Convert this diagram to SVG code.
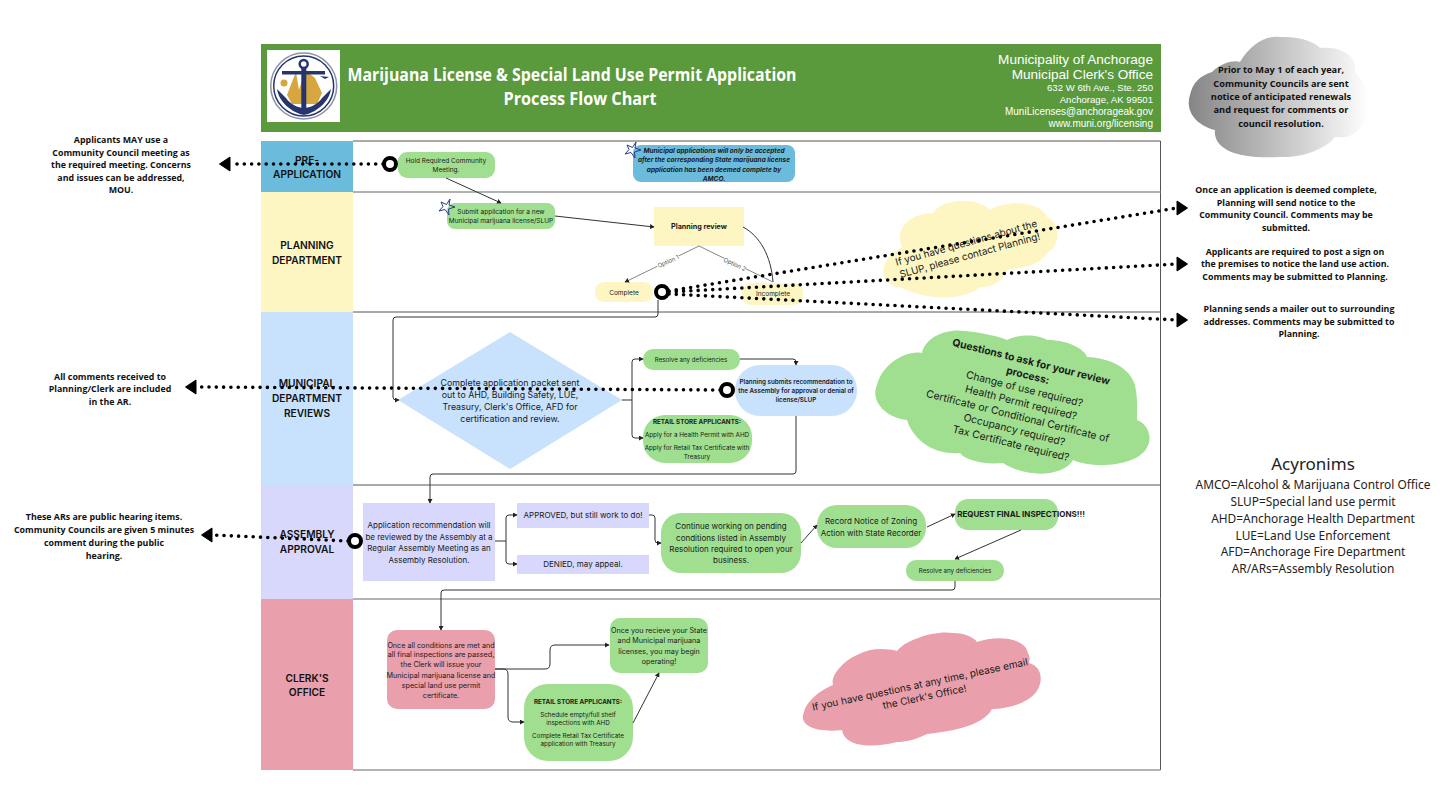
<svg xmlns="http://www.w3.org/2000/svg" width="1440" height="809" viewBox="0 0 1440 809">
<style>
text{font-family:"Inter","Liberation Sans",sans-serif;fill:#1a1a1a;text-anchor:middle}
.lane{font-size:10.200px;font-weight:600;fill:#111}
.s62{font-size:6.200px}.s63{font-size:6.300px}.s7{font-size:6.500px}.s75{font-size:7.200px}.s8{font-size:8px}.s9{font-size:8.800px}
.b{font-weight:700}
.note{font-size:8.850px;font-weight:700;fill:#111;font-family:"Open Sans","Liberation Sans",sans-serif}
.big{font-size:9.250px}
.hd{font-family:"Liberation Sans",sans-serif;fill:#fff;text-anchor:end}
.ttl{font-size:17px;font-weight:700;fill:#fff;font-family:"Open Sans",sans-serif}
.acr{font-size:11.900px;font-family:"Noto Sans","Liberation Sans",sans-serif;fill:#222}
.thin{fill:none;stroke:#333;stroke-width:1}
.dot{fill:none;stroke:#000;stroke-width:3.600;stroke-linecap:round;stroke-dasharray:0 7.300}
.ring{fill:#fff;stroke:#000;stroke-width:4}
.opt{fill:none;stroke:#666;stroke-width:.8}
.optt{font-size:6px;fill:#555}
.star{fill:none;stroke:#2b3a8c;stroke-width:1}
.green{fill:#9fdf8f}.yel{fill:#fdf6c3}.blue{fill:#c8e1fc}.lav{fill:#d7d8fc}.pink{fill:#e9a0ac}.sky{fill:#6bbcdc}
.rule{fill:none;stroke:#555;stroke-width:1}
.rule2{fill:none;stroke:#999;stroke-width:1.500}
</style>
<defs>
<marker id="a" markerWidth="5" markerHeight="5" refX="4" refY="2.500" orient="auto" markerUnits="userSpaceOnUse"><path d="M0 0L4.500 2.500L0 5z" fill="#222"/></marker>
<marker id="bigR" markerWidth="14" markerHeight="16" refX="1" refY="8" orient="0" markerUnits="userSpaceOnUse"><path d="M1 1L11.500 8L1 15z" fill="#000" stroke="#000" stroke-linejoin="round"/></marker>
<marker id="bigL" markerWidth="14" markerHeight="16" refX="1" refY="8" orient="180" markerUnits="userSpaceOnUse"><path d="M1 1L11.500 8L1 15z" fill="#000" stroke="#000" stroke-linejoin="round"/></marker>
<linearGradient id="gr" x1="0" x2="1" y1="0" y2="0"><stop offset="0" stop-color="#858585"/><stop offset="1" stop-color="#ffffff"/></linearGradient>
<path id="st" d="M3 -8L2 -2L8 0L1.500 2L2 8L-2 2.500L-8 4L-4 -.5L-6 -5L-.5 -2.500Z"/>
</defs>

<g id="header">
<rect x="261" y="44" width="900" height="88" fill="#5a9a3c"/>
<rect x="267" y="50" width="73" height="72" fill="#fff"/>
<circle cx="303.700" cy="86" r="33" fill="none" stroke="#8c93a8" stroke-width="1.500"/>
<circle cx="303.700" cy="86" r="30" fill="none" stroke="#27356f" stroke-width="1.500"/>
<circle cx="284" cy="83" r="3.500" fill="#d8a63f"/>
<path d="M287 95L292 82L296 72L299 90L305 70L315 78L322 93L317 104H292Z" fill="#d8a63f"/>
<path d="M320 76L329 77L325 79Z" fill="#27356f"/>
<path d="M277 89C279 103 293 113 304 115C315 113 329 103 331 89L322 98C318 104 310 108 304 108C298 108 290 104 286 98Z" fill="#27356f"/>
<rect x="301.300" y="68" width="5" height="42" fill="#27356f"/>
<rect x="282" y="71" width="43" height="3.500" fill="#27356f"/>
<circle cx="303.700" cy="64" r="4" fill="none" stroke="#27356f" stroke-width="2.500"/>
<text class="ttl" style="fill:#fff" x="572" y="81" textLength="449" lengthAdjust="spacingAndGlyphs">Marijuana License &amp; Special Land Use Permit Application</text>
<text class="ttl" style="fill:#fff" x="580" y="105" textLength="153" lengthAdjust="spacingAndGlyphs">Process Flow Chart</text>
<text class="hd" x="1153" y="64" font-size="13.600">Municipality of Anchorage</text>
<text class="hd" x="1153" y="79" font-size="13.600">Municipal Clerk's Office</text>
<text class="hd" x="1153" y="91" font-size="9.600">632 W 6th Ave., Ste. 250</text>
<text class="hd" x="1153" y="103" font-size="9.600">Anchorage, AK 99501</text>
<text class="hd" x="1153" y="115" font-size="10">MuniLicenses@anchorageak.gov</text>
<text class="hd" x="1153" y="127" font-size="10">www.muni.org/licensing</text>
</g>

<g id="lanes">
<rect x="261" y="141" width="92" height="51" class="sky"/>
<rect x="261" y="192" width="92" height="120" class="yel"/>
<rect x="261" y="312" width="92" height="173" class="blue"/>
<rect x="261" y="485" width="92" height="114" class="lav"/>
<rect x="261" y="599" width="92" height="171" class="pink"/>
<path class="rule" d="M353 141H1160.500V770M353 312H1160.500M353 485H1160.500"/>
<path class="rule2" d="M353 192H1160.500M353 599H1160.500M353 770H1160.500"/>
<text class="lane"><tspan x="307" y="164">PRE-</tspan><tspan x="307" y="178">APPLICATION</tspan></text>
<text class="lane"><tspan x="307" y="249">PLANNING</tspan><tspan x="307" y="264">DEPARTMENT</tspan></text>
<text class="lane"><tspan x="307" y="387">MUNICIPAL</tspan><tspan x="307" y="402">DEPARTMENT</tspan><tspan x="307" y="417">REVIEWS</tspan></text>
<text class="lane"><tspan x="307" y="538">ASSEMBLY</tspan><tspan x="307" y="553">APPROVAL</tspan></text>
<text class="lane"><tspan x="307" y="682">CLERK'S</tspan><tspan x="307" y="696">OFFICE</tspan></text>
</g>

<g id="hold"><rect x="398" y="152" width="97" height="26" rx="9" class="green"/><text class="s7"><tspan x="446" y="163">Hold Required Community</tspan><tspan x="446" y="172">Meeting.</tspan></text></g>
<g id="state-note"><rect x="633" y="145" width="162" height="37" rx="8" class="sky"/><use href="#st" x="633" y="150" class="star"/><text class="s7 b" font-style="italic"><tspan x="714" y="153">Municipal applications will only be accepted</tspan><tspan x="714" y="162">after the corresponding State marijuana license</tspan><tspan x="714" y="172">application has been deemed complete by</tspan><tspan x="714" y="181">AMCO.</tspan></text></g>
<g id="submit"><rect x="447" y="203" width="108" height="26" rx="8" class="green"/><use href="#st" x="447" y="207" class="star"/><text class="s7"><tspan x="501" y="214">Submit application for a new</tspan><tspan x="501" y="223">Municipal marijuana license/SLUP</tspan></text></g>
<g id="planning-review"><rect x="654" y="207" width="90" height="39" class="yel"/><text class="s75 b" x="699" y="229">Planning review</text></g>
<g id="complete"><rect x="595" y="282" width="58" height="20" rx="9" class="yel"/><text class="s7" x="624" y="295">Complete</text></g>
<g id="incomplete"><rect x="742" y="283" width="61" height="22" rx="9" class="yel"/><text class="s7" x="773" y="296">Incomplete</text></g>
<g id="planning-cloud"><path class="yel" d="M900 287C878 285 876 262 902 247C895 232 905 214 933 213C940 200 975 195 990 210C1005 200 1040 200 1047 217C1060 222 1062 245 1047 253C1040 266 1020 268 1007 270C1000 285 988 288 980 287C965 300 930 302 900 287Z"/><text font-size="9.900" transform="rotate(-15.500 968 249)"><tspan x="968" y="246">If you have questions about the</tspan><tspan x="968" y="259">SLUP, please contact Planning!</tspan></text></g>

<g id="packet"><path class="blue" d="M398 400L510 332L622 400L510 469Z"/><text class="s9"><tspan x="510" y="386">Complete application packet sent</tspan><tspan x="510" y="398">out to AHD, Building Safety, LUE,</tspan><tspan x="510" y="410">Treasury, Clerk's Office, AFD for</tspan><tspan x="510" y="422">certification and review.</tspan></text></g>
<g id="resolve-1"><rect x="643" y="349" width="97" height="21" rx="10" class="green"/><text class="s62" x="691" y="362">Resolve any deficiencies</text></g>
<g id="retail-1"><rect x="643" y="415" width="109" height="48" rx="22" class="green"/><text class="s63"><tspan x="697" y="424" class="b">RETAIL STORE APPLICANTS:</tspan><tspan x="697" y="437">Apply for a Health Permit with AHD</tspan><tspan x="697" y="450">Apply for Retail Tax Certificate with</tspan><tspan x="697" y="459">Treasury</tspan></text></g>
<g id="recommend"><rect x="735" y="365" width="122" height="51" rx="25" class="blue"/><text class="s63" font-weight="600"><tspan x="796" y="384">Planning submits recommendation to</tspan><tspan x="796" y="393">the Assembly for approval or denial of</tspan><tspan x="796" y="402">license/SLUP</tspan></text></g>
<g id="review-cloud"><path class="green" d="M907 420C885 418 870 400 877 385C882 365 905 350 922 353C925 338 945 328 965 331C985 333 1000 337 1007 340C1020 333 1040 335 1047 340C1070 340 1085 350 1087 357C1110 358 1130 368 1135 385C1138 400 1137 410 1137 420C1150 425 1152 440 1147 447C1140 465 1095 470 1073 460C1065 475 1030 480 1003 463C985 465 965 460 960 453C940 455 915 445 907 420Z"/>
<text font-size="10.300" transform="rotate(14 1021 403)"><tspan x="1021" y="364" class="b">Questions to ask for your review</tspan><tspan x="1021" y="378" class="b">process:</tspan><tspan x="1021" y="392">Change of use required?</tspan><tspan x="1021" y="406">Health Permit required?</tspan><tspan x="1021" y="420">Certificate or Conditional Certificate of</tspan><tspan x="1021" y="434">Occupancy required?</tspan><tspan x="1021" y="448">Tax Certificate required?</tspan></text></g>

<g id="assembly"><rect x="363" y="503" width="132" height="78" class="lav"/><text class="s8"><tspan x="429" y="528">Application recommendation will</tspan><tspan x="429" y="540">be reviewed by the Assembly at a</tspan><tspan x="429" y="551">Regular Assembly Meeting as an</tspan><tspan x="429" y="563">Assembly Resolution.</tspan></text></g>
<g id="approved"><rect x="517" y="503" width="132" height="25" class="lav"/><text class="s8" x="583" y="518">APPROVED, but still work to do!</text></g>
<g id="denied"><rect x="517" y="555" width="132" height="19" class="lav"/><text class="s8" x="583" y="567">DENIED, may appeal.</text></g>
<g id="continue"><rect x="661" y="513" width="140" height="60" rx="20" class="green"/><text class="s8"><tspan x="731" y="529">Continue working on pending</tspan><tspan x="731" y="541">conditions listed in Assembly</tspan><tspan x="731" y="552">Resolution required to open your</tspan><tspan x="731" y="563">business.</tspan></text></g>
<g id="record"><rect x="817" y="505" width="109" height="43" rx="20" class="green"/><text class="s8"><tspan x="871" y="524">Record Notice of Zoning</tspan><tspan x="871" y="536">Action with State Recorder</tspan></text></g>
<g id="request"><rect x="955" y="499" width="103" height="31" rx="13" class="green"/><text class="s8 b" x="1021" y="517">REQUEST FINAL INSPECTIONS!!!</text></g>
<g id="resolve-2"><rect x="906" y="560" width="98" height="21" rx="10" class="green"/><text class="s62" x="955" y="573">Resolve any deficiencies</text></g>

<g id="clerk"><rect x="387" y="630" width="108" height="79" rx="10" class="pink"/><text class="s75"><tspan x="441" y="648">Once all conditions are met and</tspan><tspan x="441" y="657">all final inspections are passed,</tspan><tspan x="441" y="667">the Clerk will issue your</tspan><tspan x="441" y="678">Municipal marijuana license and</tspan><tspan x="441" y="688">special land use permit</tspan><tspan x="441" y="698">certificate.</tspan></text></g>
<g id="operate"><rect x="610" y="618" width="98" height="55" rx="10" class="green"/><text class="s75"><tspan x="659" y="633">Once you recieve your State</tspan><tspan x="659" y="643">and Municipal marijuana</tspan><tspan x="659" y="654">licenses, you may begin</tspan><tspan x="659" y="664">operating!</tspan></text></g>
<g id="retail-2"><rect x="524" y="684" width="109" height="77" rx="24" class="green"/><text class="s63"><tspan x="578" y="704" class="b">RETAIL STORE APPLICANTS:</tspan><tspan x="578" y="717">Schedule empty/full shelf</tspan><tspan x="578" y="725">inspections with AHD</tspan><tspan x="578" y="738">Complete Retail Tax Certificate</tspan><tspan x="578" y="746">application with Treasury</tspan></text></g>
<g id="clerk-cloud"><path class="pink" d="M842 730C815 733 798 725 804 712C806 702 820 690 833 685C830 675 845 660 857 655C870 648 885 648 897 651C905 640 935 630 953 633C965 633 975 638 977 642C995 635 1025 637 1028 653C1030 657 1030 660 1029 663C1045 667 1045 690 1027 700C1015 707 1000 709 992 709C985 722 965 730 927 734C915 740 905 742 897 742C875 748 845 748 842 730Z"/><text font-size="10" transform="rotate(-12 920 685)"><tspan x="920" y="688">If you have questions at any time, please email</tspan><tspan x="922" y="701">the Clerk's Office!</tspan></text></g>

<g id="grey-cloud"><path fill="url(#gr)" d="M1215 130C1195 125 1185 110 1190 95C1193 82 1200 76 1212 72C1222 62 1235 60 1240 62C1250 45 1265 35 1280 37C1300 36 1315 42 1320 48C1340 46 1358 55 1355 72C1368 85 1375 110 1362 125C1355 137 1345 138 1335 137C1325 150 1300 158 1280 157C1262 158 1240 157 1227 150C1218 145 1214 138 1215 130Z"/><text class="note big"><tspan x="1281" y="73">Prior to May 1 of each year,</tspan><tspan x="1281" y="87">Community Councils are sent</tspan><tspan x="1281" y="100">notice of anticipated renewals</tspan><tspan x="1281" y="113">and request for comments or</tspan><tspan x="1281" y="127">council resolution.</tspan></text></g>

<g id="notes">
<text class="note"><tspan x="121" y="143">Applicants MAY use a</tspan><tspan x="121" y="156">Community Council meeting as</tspan><tspan x="121" y="168">the required meeting. Concerns</tspan><tspan x="121" y="181">and issues can be addressed,</tspan><tspan x="121" y="193">MOU.</tspan></text>
<text class="note"><tspan x="110" y="380">All comments received to</tspan><tspan x="110" y="392">Planning/Clerk are included</tspan><tspan x="110" y="405">in the AR.</tspan></text>
<text class="note"><tspan x="104" y="520">These ARs are public hearing items.</tspan><tspan x="104" y="533">Community Councils are given 5 minutes</tspan><tspan x="104" y="546">comment during the public</tspan><tspan x="104" y="559">hearing.</tspan></text>
<text class="note"><tspan x="1286" y="193">Once an application is deemed complete,</tspan><tspan x="1286" y="206">Planning will send notice to the</tspan><tspan x="1286" y="218">Community Council. Comments may be</tspan><tspan x="1286" y="231">submitted.</tspan></text>
<text class="note"><tspan x="1295" y="255">Applicants are required to post a sign on</tspan><tspan x="1295" y="267">the premises to notice the land use action.</tspan><tspan x="1295" y="280">Comments may be submitted to Planning.</tspan></text>
<text class="note"><tspan x="1299" y="312">Planning sends a mailer out to surrounding</tspan><tspan x="1299" y="325">addresses. Comments may be submitted to</tspan><tspan x="1299" y="337">Planning.</tspan></text>
</g>

<g id="acronyms">
<text x="1313" y="470" font-size="17" style="font-family:'Noto Sans',sans-serif;fill:#222">Acyronims</text>
<text class="acr"><tspan x="1313" y="489">AMCO=Alcohol &amp; Marijuana Control Office</tspan><tspan x="1313" y="506">SLUP=Special land use permit</tspan><tspan x="1313" y="523">AHD=Anchorage Health Department</tspan><tspan x="1313" y="540">LUE=Land Use Enforcement</tspan><tspan x="1313" y="556">AFD=Anchorage Fire Department</tspan><tspan x="1313" y="573">AR/ARs=Assembly Resolution</tspan></text>
</g>

<g id="connectors">
<path class="thin" marker-end="url(#a)" d="M446 178L501 203"/>
<path class="thin" marker-end="url(#a)" d="M555 216L654 227"/>
<path class="thin" d="M743 227C760 236 771 256 773 282"/>
<path class="opt" marker-end="url(#a)" d="M699 246L625 282"/>
<path class="opt" d="M699 246L773 282"/>
<rect x="656" y="256" width="24" height="10" fill="#fff" transform="rotate(-25 668 261)"/>
<text class="optt" style="fill:#555" x="668" y="263.500" transform="rotate(-25 668 261)">Option 1</text>
<rect x="723" y="259" width="24" height="10" fill="#fff" transform="rotate(25 735 264)"/>
<text class="optt" style="fill:#555" x="735" y="266.500" transform="rotate(25 735 264)">Option 2</text>
<path class="thin" marker-end="url(#a)" d="M658 300V314Q658 317 655 317H396Q393 317 393 320V397Q393 400 396 400H399"/>
<path class="thin" d="M622 400H632"/>
<path class="thin" marker-end="url(#a)" d="M632 400V362Q632 359 635 359H643"/>
<path class="thin" marker-end="url(#a)" d="M632 400V435Q632 438 635 438H643"/>
<path class="thin" marker-end="url(#a)" d="M740 359H793Q796 359 796 362V365"/>
<path class="thin" marker-end="url(#a)" d="M796 416V471Q796 474 793 474H433Q430 474 430 477V503"/>
<path class="thin" d="M495 541H506"/>
<path class="thin" marker-end="url(#a)" d="M506 541V518Q506 515 509 515H517"/>
<path class="thin" marker-end="url(#a)" d="M506 541V561Q506 564 509 564H517"/>
<path class="thin" marker-end="url(#a)" d="M649 515H652Q655 515 655 518V540Q655 543 658 543H661"/>
<path class="thin" marker-end="url(#a)" d="M801 543L817 525"/>
<path class="thin" marker-end="url(#a)" d="M927 527L955 514"/>
<path class="thin" marker-end="url(#a)" d="M1021 530L955 559"/>
<path class="thin" marker-end="url(#a)" d="M955 581V587Q955 590 952 590H444Q441 590 441 593V630"/>
<path class="thin" marker-end="url(#a)" d="M495 669H545Q550 669 550 664V650Q550 645 555 645H609"/>
<path class="thin" marker-end="url(#a)" d="M495 669H503Q508 669 508 674V717Q508 722 513 722H524"/>
<path class="thin" marker-end="url(#a)" d="M633 723L659 673"/>
<path class="dot" marker-end="url(#bigL)" d="M383 164L230 164"/>
<path class="dot" marker-end="url(#bigL)" d="M720 390L196 387"/>
<path class="dot" marker-end="url(#bigL)" d="M348 541L212 535"/>
<path class="dot" marker-end="url(#bigR)" d="M669 291L1177 208"/>
<path class="dot" marker-end="url(#bigR)" d="M669 292L1177 264"/>
<path class="dot" marker-end="url(#bigR)" d="M669 294L1177 320"/>
<circle class="ring" cx="390" cy="164" r="6"/>
<circle class="ring" cx="662" cy="292" r="6"/>
<circle class="ring" cx="727" cy="390" r="6"/>
<circle class="ring" cx="355" cy="541" r="6"/>
</g>
</svg>
